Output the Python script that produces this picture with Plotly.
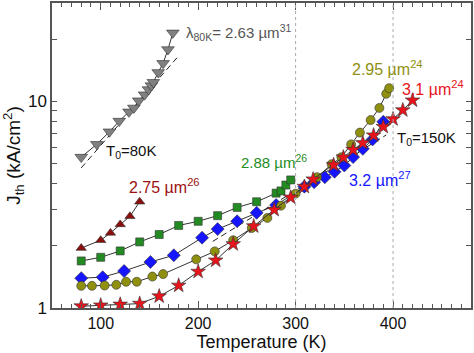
import numpy as np
import plotly.graph_objects as go

# ---- data ----
T_263 = [80, 96, 109, 119, 129, 134, 139, 145, 149, 152, 154, 159, 164, 169, 174]
J_263 = [5.38, 6.21, 7.14, 8.04, 8.91, 9.31, 10.09, 10.79, 11.43, 11.94, 12.39, 13.84, 15.31, 17.86, 21.5]

T_275 = [80, 100, 110, 120, 130, 140]
J_275 = [1.95, 2.13, 2.31, 2.54, 2.78, 3.27]

T_288 = [80, 100, 120, 140, 160, 180, 200, 220, 240, 260, 280, 285, 290, 295]
J_288 = [1.69, 1.76, 1.89, 2.09, 2.27, 2.51, 2.63, 2.8, 3.07, 3.27, 3.60, 3.69, 3.94, 4.17]

T_32 = [80, 102, 124, 151, 175, 204, 220, 240, 260, 280, 309, 319, 330, 340, 350, 359, 369, 379, 390]
J_32 = [1.395, 1.41, 1.51, 1.67, 1.80, 2.19, 2.41, 2.63, 2.89, 3.15, 3.87, 4.07, 4.3, 4.57, 4.90, 5.38, 5.90, 6.55, 7.98]

T_295 = [80, 91, 104, 116, 126, 137, 153, 164, 198, 217, 236, 255, 271, 285, 300, 322, 337, 347, 357, 366, 377, 386, 393, 396]
J_295 = [1.28, 1.28, 1.285, 1.295, 1.34, 1.34, 1.42, 1.46, 1.72, 1.88, 2.13, 2.44, 2.73, 3.13, 3.58, 4.30, 4.97, 5.37, 6.2, 7.07, 8.13, 9.31, 10.9, 11.6]

T_31 = [80, 100, 120, 140, 160, 180, 200, 218, 236, 257, 278, 295, 309, 318, 339, 349, 359, 369, 380, 390, 400, 410, 420]
J_31 = [1.02, 1.03, 1.04, 1.05, 1.14, 1.285, 1.50, 1.70, 2.04, 2.49, 2.99, 3.43, 3.87, 4.20, 4.93, 5.37, 5.84, 6.3, 6.86, 7.55, 8.22, 9.08, 10.13]

# T0 fits: J = J_ref * exp((T - T_ref)/T0)
fit80 = dict(T0=80, T_ref=80, J_ref=4.77, T_start=80, T_end=179)
fit150 = dict(T0=150, T_ref=217, J_ref=2.13, T_start=215, T_end=393)

FONT = "Arial, Liberation Sans, sans-serif"

fig = go.Figure()

for xs in (300, 400):
    fig.add_vline(x=xs, line=dict(color="#aaaaaa", width=1, dash="dot"))

def fitline(f):
    T = np.linspace(f["T_start"], f["T_end"], 50)
    J = f["J_ref"] * np.exp((T - f["T_ref"]) / f["T0"])
    fig.add_trace(go.Scatter(x=T, y=J, mode="lines",
                             line=dict(color="#222222", width=1, dash="6px,4px"),
                             showlegend=False, hoverinfo="skip"))

fitline(fit80)
fitline(fit150)

series = [
    (T_263, J_263, "triangle-down", "#808080", 11),
    (T_275, J_275, "triangle-up", "#8b0f0f", 9),
    (T_288, J_288, "square", "#228b22", 8),
    (T_32, J_32, "diamond", "#1515ff", 10),
    (T_295, J_295, "circle", "#8f8f10", 9),
    (T_31, J_31, "star", "#e8141c", 11),
]
for T, J, sym, col, sz in series:
    fig.add_trace(go.Scatter(
        x=T, y=J, mode="lines+markers",
        line=dict(color="#333333", width=1),
        marker=dict(symbol=sym, color=col, size=sz,
                    line=dict(color="#333333", width=0.6)),
        showlegend=False))

def ann(T, logJ, text, color, size=16):
    fig.add_annotation(x=T, y=logJ, xref="x", yref="y", text=text,
                       showarrow=False, xanchor="left", yanchor="middle",
                       font=dict(family=FONT, size=size, color=color))

ann(185.5, 1.3325, "λ<sub>80K</sub>= 2.63 µm<sup>31</sup>", "#555555", 15)
ann(103.8, 0.758, "T<sub>0</sub>=80K", "#111111", 15)
ann(127.3, 0.591, "2.75 µm<sup>26</sup>", "#9b1010", 16)
ann(242, 0.71, "2.88 µm<sup>26</sup>", "#1e8c1e", 15)
ann(353, 0.625, "3.2 µm<sup>27</sup>", "#1515ff", 16)
ann(356, 1.16, "2.95 µm<sup>24</sup>", "#8f8f10", 16)
ann(407, 1.065, "3.1 µm<sup>24</sup>", "#e8141c", 16)
ann(402, 0.821, "T<sub>0</sub>=150K", "#111111", 15)

ytv = [1, 2, 3, 4, 5, 6, 7, 8, 9, 10, 20, 30]
ytt = ["1", "", "", "", "", "", "", "", "", "10", "", ""]

fig.update_layout(
    width=474, height=353,
    margin=dict(l=52, r=1, t=1, b=45),
    paper_bgcolor="white", plot_bgcolor="white",
    font=dict(family=FONT, color="#111111"),
    xaxis=dict(range=[50, 480], tickvals=[100, 200, 300, 400],
               ticks="inside", ticklen=7, tickcolor="#555555", tickwidth=1,
               minor=dict(dtick=10, tick0=0, ticks="inside", ticklen=4,
                          tickcolor="#555555"),
               showline=True, linecolor="#555555", linewidth=1.5, mirror="allticks",
               showgrid=False, zeroline=False,
               tickfont=dict(size=16),
               title=dict(text="Temperature (K)", font=dict(size=18), standoff=4)),
    yaxis=dict(type="log", range=[0, np.log10(30)], tickvals=ytv, ticktext=ytt,
               ticks="inside", ticklen=5, tickcolor="#555555", tickwidth=1,
               showline=True, linecolor="#555555", linewidth=1.5, mirror="allticks",
               showgrid=False, zeroline=False,
               tickfont=dict(size=17),
               title=dict(text="J<sub>th</sub> (kA/cm<sup>2</sup>)", font=dict(size=19),
                          standoff=4)),
)

fig.write_html("out.html")
